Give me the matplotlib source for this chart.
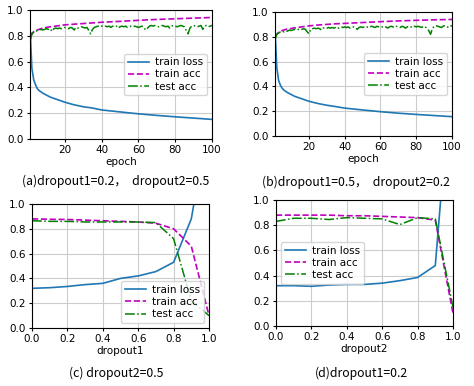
import numpy as np
import matplotlib
matplotlib.use('Agg')
import matplotlib.pyplot as plt

# ---- данные: (a) и (b), по эпохам ----
ep_pts = [1, 2, 3, 4, 5, 6, 7, 8, 10, 12, 15, 20, 25, 30, 35, 40, 50, 60, 70, 80, 90, 100]
a_loss = [0.87, 0.55, 0.46, 0.42, 0.39, 0.375, 0.365, 0.355, 0.34, 0.325, 0.31, 0.285,
          0.265, 0.25, 0.24, 0.225, 0.21, 0.195, 0.183, 0.172, 0.162, 0.152]
a_train_acc = [0.80, 0.82, 0.83, 0.84, 0.845, 0.85, 0.855, 0.86, 0.865, 0.87, 0.875, 0.885,
               0.89, 0.895, 0.90, 0.905, 0.912, 0.92, 0.927, 0.932, 0.937, 0.942]
b_loss = [0.87, 0.55, 0.45, 0.41, 0.385, 0.37, 0.36, 0.35, 0.335, 0.32, 0.305, 0.28,
          0.262, 0.248, 0.237, 0.225, 0.21, 0.196, 0.184, 0.174, 0.165, 0.156]
b_train_acc = [0.80, 0.82, 0.835, 0.845, 0.85, 0.855, 0.86, 0.862, 0.867, 0.872, 0.878, 0.888,
               0.895, 0.90, 0.905, 0.908, 0.915, 0.922, 0.928, 0.933, 0.937, 0.94]

epochs = list(range(1, 101))
a_test_acc = [0.76, 0.81, 0.83, 0.835, 0.84, 0.845, 0.85, 0.845, 0.85, 0.855,
              0.85, 0.855, 0.835, 0.855, 0.86, 0.855, 0.86, 0.855, 0.86, 0.865,
              0.86, 0.855, 0.865, 0.86, 0.845, 0.865, 0.86, 0.865, 0.87, 0.865,
              0.86, 0.865, 0.84, 0.815, 0.85, 0.865, 0.87, 0.875, 0.87, 0.875,
              0.87, 0.875, 0.87, 0.875, 0.865, 0.875, 0.87, 0.875, 0.86, 0.87,
              0.875, 0.87, 0.875, 0.865, 0.87, 0.875, 0.87, 0.875, 0.87, 0.865,
              0.87, 0.875, 0.86, 0.845, 0.86, 0.875, 0.88, 0.875, 0.88, 0.875,
              0.87, 0.875, 0.88, 0.875, 0.87, 0.875, 0.86, 0.875, 0.88, 0.875,
              0.87, 0.875, 0.88, 0.875, 0.87, 0.84, 0.815, 0.86, 0.875, 0.88,
              0.875, 0.87, 0.875, 0.88, 0.85, 0.875, 0.88, 0.87, 0.875, 0.88]
b_test_acc = [0.78, 0.82, 0.83, 0.84, 0.845, 0.84, 0.85, 0.845, 0.855, 0.85,
              0.855, 0.86, 0.855, 0.86, 0.855, 0.86, 0.865, 0.86, 0.84, 0.825,
              0.86, 0.865, 0.87, 0.865, 0.87, 0.865, 0.855, 0.87, 0.875, 0.87,
              0.875, 0.87, 0.875, 0.87, 0.875, 0.865, 0.875, 0.88, 0.875, 0.88,
              0.875, 0.88, 0.87, 0.875, 0.88, 0.875, 0.86, 0.875, 0.88, 0.875,
              0.88, 0.885, 0.875, 0.88, 0.885, 0.88, 0.875, 0.885, 0.88, 0.875,
              0.88, 0.885, 0.88, 0.87, 0.88, 0.885, 0.88, 0.875, 0.885, 0.88,
              0.875, 0.885, 0.88, 0.87, 0.88, 0.885, 0.88, 0.875, 0.885, 0.88,
              0.885, 0.88, 0.875, 0.885, 0.88, 0.87, 0.85, 0.82, 0.865, 0.885,
              0.89, 0.885, 0.88, 0.875, 0.885, 0.89, 0.885, 0.875, 0.885, 0.89]

# ---- данные: (c) и (d), по dropout ----
drop = [0.0, 0.1, 0.2, 0.3, 0.4, 0.5, 0.6, 0.7, 0.8, 0.9, 1.0]
c_loss = [0.32, 0.325, 0.335, 0.35, 0.36, 0.40, 0.42, 0.455, 0.53, 0.88, 1.7]
c_train_acc = [0.88, 0.877, 0.875, 0.87, 0.865, 0.86, 0.855, 0.845, 0.80, 0.66, 0.10]
c_test_acc = [0.865, 0.86, 0.86, 0.855, 0.855, 0.855, 0.855, 0.85, 0.72, 0.22, 0.10]
d_loss = [0.32, 0.32, 0.315, 0.325, 0.33, 0.33, 0.34, 0.36, 0.385, 0.48, 2.2]
d_train_acc = [0.88, 0.88, 0.88, 0.88, 0.875, 0.875, 0.87, 0.865, 0.86, 0.84, 0.10]
d_test_acc = [0.83, 0.855, 0.855, 0.845, 0.86, 0.855, 0.85, 0.805, 0.86, 0.85, 0.15]

captions = ['(a)dropout1=0.2，  dropout2=0.5', '(b)dropout1=0.5，  dropout2=0.2',
            '(c) dropout2=0.5', '(d)dropout1=0.2']

W, H = 474, 386
fig = plt.figure(figsize=(W / 100, H / 100), dpi=100)


def make_ax(left, top, right, bottom):
    return fig.add_axes([left / W, 1 - bottom / H, (right - left) / W, (bottom - top) / H])


def draw(ax, x_loss, loss, x_acc, train_acc, x_test, test_acc, xlabel, xlim, loc):
    ax.plot(x_loss, loss, '-', color='#1f77b4', lw=1.2, label='train loss')
    ax.plot(x_acc, train_acc, 'm--', lw=1.2, label='train acc')
    ax.plot(x_test, test_acc, 'g-.', lw=1.1, label='test acc')
    ax.set_xlim(*xlim)
    ax.set_ylim(0, 1)
    ax.set_xlabel(xlabel, fontsize=7.5, labelpad=1)
    ax.tick_params(labelsize=7.5, length=2.5, pad=2)
    ax.grid(True, color='#cccccc', lw=0.8)
    ax.legend(loc=loc, fontsize=7.5, handlelength=2.0, borderpad=0.35,
              labelspacing=0.2, handletextpad=0.6)


ax = make_ax(30, 10, 212, 139)
draw(ax, ep_pts, a_loss, ep_pts, a_train_acc, epochs, a_test_acc, 'epoch', (1, 100), 'center right')
ax.set_xticks([20, 40, 60, 80, 100])

ax = make_ax(275, 12, 452, 136)
draw(ax, ep_pts, b_loss, ep_pts, b_train_acc, epochs, b_test_acc, 'epoch', (1, 100), 'center right')
ax.set_xticks([20, 40, 60, 80, 100])

ax = make_ax(32, 204, 209, 328)
draw(ax, drop, c_loss, drop, c_train_acc, drop, c_test_acc, 'dropout1', (0, 1), 'lower right')

ax = make_ax(276, 200, 453, 326)
draw(ax, drop, d_loss, drop, d_train_acc, drop, d_test_acc, 'dropout2', (0, 1), 'center left')

cap_pos = [(116, 181), (356, 182), (116, 373), (361, 373)]
for (cx, cy), txt in zip(cap_pos, captions):
    fig.text(cx / W, 1 - cy / H, txt, ha='center', va='center', fontsize=8.8,
             family=['Noto Sans CJK SC', 'DejaVu Sans'])

fig.savefig('out.png', dpi=100)
